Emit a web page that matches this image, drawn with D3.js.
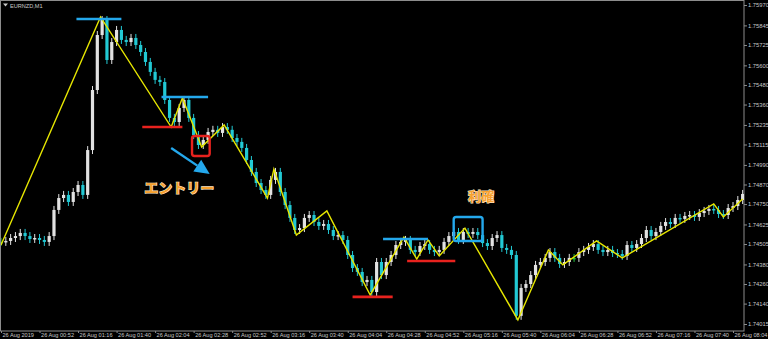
<!DOCTYPE html>
<html>
<head>
<meta charset="utf-8">
<script src="https://cdn.jsdelivr.net/npm/d3@7"></script>
<style>
body { margin: 0; background: #000; }
svg { display: block; }
</style>
</head>
<body>
<script>
// EURNZD M1, one close every 3 minutes starting 00:28
var startTime = '00:28';
var stepMinutes = 3;
var closes = [
    1.74518, 1.74524, 1.74542, 1.74554, 1.74573, 1.74554, 1.74536, 1.74542, 1.74530, 1.74518,
    1.74554, 1.74714, 1.74787, 1.74806, 1.74763, 1.74824, 1.74867, 1.74806, 1.75081, 1.75449,
    1.75786, 1.75878, 1.75633, 1.75743, 1.75817, 1.75756, 1.75743, 1.75768, 1.75725, 1.75682,
    1.75621, 1.75560, 1.75511, 1.75498, 1.75388, 1.75278, 1.75253, 1.75339, 1.75388, 1.75278,
    1.75173, 1.75112, 1.75143, 1.75192, 1.75205, 1.75186, 1.75222, 1.75205, 1.75155, 1.75131,
    1.75094, 1.75020, 1.74947, 1.74879, 1.74836, 1.74806, 1.74898, 1.74947, 1.74824, 1.74744,
    1.74665, 1.74591, 1.74603, 1.74665, 1.74683, 1.74640, 1.74616, 1.74628, 1.74591, 1.74554,
    1.74560, 1.74530, 1.74438, 1.74358, 1.74334, 1.74272, 1.74285, 1.74211, 1.74395, 1.74315,
    1.74395, 1.74438, 1.74499, 1.74518, 1.74530, 1.74469, 1.74456, 1.74493, 1.74505, 1.74469,
    1.74456, 1.74469, 1.74518, 1.74554, 1.74579, 1.74530, 1.74579, 1.74567, 1.74579, 1.74560,
    1.74511, 1.74493, 1.74542, 1.74560, 1.74481, 1.74469, 1.74438, 1.74065, 1.74236, 1.74260,
    1.74315, 1.74377, 1.74395, 1.74420, 1.74456, 1.74420, 1.74383, 1.74395, 1.74420, 1.74420,
    1.74456, 1.74469, 1.74487, 1.74505, 1.74469, 1.74456, 1.74469, 1.74450, 1.74444, 1.74432,
    1.74499, 1.74481, 1.74505, 1.74542, 1.74591, 1.74554, 1.74579, 1.74616, 1.74640, 1.74628,
    1.74665, 1.74659, 1.74677, 1.74683, 1.74671, 1.74695, 1.74708, 1.74720, 1.74714, 1.74689,
    1.74683, 1.74726, 1.74738, 1.74775, 1.74812
];

// yellow zigzag
var zigzagTimes = ['00:28', '01:30', '02:14', '02:21', '02:33', '02:47', '03:14', '03:18', '03:32', '03:51',
    '04:18', '04:39', '04:47', '04:54', '05:01', '05:17', '05:50', '06:09', '06:18', '06:39',
    '06:55', '07:52', '07:58', '08:10'];
var zigzagPrices = [1.74499, 1.75897, 1.75222, 1.75400, 1.75100, 1.75235, 1.74787, 1.74965, 1.74560, 1.74708,
    1.74193, 1.74548, 1.74413, 1.74530, 1.74432, 1.74603, 1.74040, 1.74469, 1.74377, 1.74524,
    1.74420, 1.74751, 1.74671, 1.74781];

// horizontal marker lines: [from, to, price]
var blueLines = [['01:15', '01:43', 1.75884], ['02:08', '02:37', 1.75406], ['04:26', '04:54', 1.74536]];
var redLines = [['01:56', '02:21', 1.75222], ['04:07', '04:32', 1.74181], ['04:41', '05:11', 1.74401]];

// boxes: [from, to, top price, bottom price]
var entryBox = ['02:27', '02:38', 1.75167, 1.75045];
var exitBox = ['05:10', '05:28', 1.74671, 1.74524];
var arrow = ['02:14', '02:38', 1.75094, 1.74934];
var notes = [{ text: 'エントリー', t: '02:19', p: 1.74818 }, { text: '利確', t: '05:27', p: 1.74769 }];

var priceTicks = [1.75970, 1.75845, 1.75725, 1.75600, 1.75480, 1.75360, 1.75235, 1.75115, 1.74990,
    1.74870, 1.74750, 1.74625, 1.74505, 1.74380, 1.74260, 1.74140, 1.74015];
var timeTicks = ['00:28', '00:52', '01:16', '01:40', '02:04', '02:28', '02:52', '03:16', '03:40', '04:04',
    '04:28', '04:52', '05:16', '05:40', '06:04', '06:28', '06:52', '07:16', '07:40', '08:04'];
var timeLabels = ['26 Aug 2019', '26 Aug 00:52', '26 Aug 01:16', '26 Aug 01:40', '26 Aug 02:04', '26 Aug 02:28',
    '26 Aug 02:52', '26 Aug 03:16', '26 Aug 03:40', '26 Aug 04:04', '26 Aug 04:28', '26 Aug 04:52',
    '26 Aug 05:16', '26 Aug 05:40', '26 Aug 06:04', '26 Aug 06:28', '26 Aug 06:52', '26 Aug 07:16',
    '26 Aug 07:40', '26 Aug 08:04'];

var parseTime = d3.timeParse('%H:%M');
var plotRight = 744, plotBottom = 331;
var axisFont = '"Liberation Sans", Arial, sans-serif';

var x = d3.scaleTime().domain([parseTime('00:28'), parseTime('08:04')]).range([1, 733]);
var y = d3.scaleLinear().domain([1.74015, 1.75970]).range([324, 5]);

var svg = d3.select('body').append('svg')
    .attr('width', 768)
    .attr('height', 339)
    .style('background', '#000');

svg.append('defs').append('clipPath').attr('id', 'plot')
    .append('rect').attr('x', 1).attr('y', 1).attr('width', plotRight - 1).attr('height', plotBottom - 1);

// frame
svg.append('rect')
    .attr('x', 0.5).attr('y', 0.5)
    .attr('width', plotRight - 0.5).attr('height', plotBottom - 0.5)
    .attr('fill', 'none').attr('stroke', '#8c8c8c').attr('stroke-width', 1);

// candles
var t0 = parseTime(startTime);
var candles = closes.map(function(c, i) {
    return { t: d3.timeMinute.offset(t0, i * stepMinutes), open: i ? closes[i - 1] : c, close: c };
});

var plot = svg.append('g').attr('clip-path', 'url(#plot)');

var cg = plot.selectAll('g.candle').data(candles).enter().append('g').attr('class', 'candle');

function candleColor(d) {
    if (Math.abs(y(d.close) - y(d.open)) < 0.6) return '#1fbf3a';
    return d.close >= d.open ? '#e2e2e2' : '#22c9d4';
}

cg.append('line')
    .attr('x1', function(d) { return x(d.t); })
    .attr('x2', function(d) { return x(d.t); })
    .attr('y1', function(d) { return Math.min(y(d.open), y(d.close)) - 4; })
    .attr('y2', function(d) { return Math.max(y(d.open), y(d.close)) + 4; })
    .attr('stroke', candleColor)
    .attr('stroke-width', 1);

cg.append('rect')
    .attr('x', function(d) { return x(d.t) - 1.6; })
    .attr('width', 3.2)
    .attr('y', function(d) { return Math.min(y(d.open), y(d.close)); })
    .attr('height', function(d) { return Math.max(1.5, Math.abs(y(d.open) - y(d.close))); })
    .attr('fill', candleColor);

// zigzag
var zz = zigzagTimes.map(function(t, i) { return [parseTime(t), zigzagPrices[i]]; });
plot.append('path')
    .datum(zz)
    .attr('d', d3.line().x(function(d) { return x(d[0]); }).y(function(d) { return y(d[1]); }))
    .attr('fill', 'none')
    .attr('stroke', '#e6e600')
    .attr('stroke-width', 1.4);

// axes
var yAxis = svg.append('g')
    .attr('transform', 'translate(' + plotRight + ',0)')
    .call(d3.axisRight(y).tickValues(priceTicks).tickFormat(d3.format('.5f')).tickSize(3).tickPadding(1));
yAxis.select('.domain').remove();
yAxis.selectAll('line').attr('stroke', '#8c8c8c');
yAxis.selectAll('text')
    .attr('fill', '#c8c8c8')
    .attr('font-family', axisFont)
    .attr('font-size', 5.8);

var xAxis = svg.append('g')
    .attr('transform', 'translate(0,' + plotBottom + ')')
    .call(d3.axisBottom(x)
        .tickValues(timeTicks.map(parseTime))
        .tickFormat(function(d, i) { return timeLabels[i]; })
        .tickSize(2).tickPadding(0));
xAxis.select('.domain').remove();
xAxis.selectAll('line').attr('stroke', '#8c8c8c');
xAxis.selectAll('text')
    .attr('fill', '#c8c8c8')
    .attr('font-family', axisFont)
    .attr('font-size', 5.6)
    .attr('text-anchor', 'start')
    .attr('dx', 1);

// title
svg.append('path').attr('d', 'M3,3.5 L8,3.5 L5.5,6.5 Z').attr('fill', '#c8c8c8');
svg.append('text')
    .attr('x', 10).attr('y', 7.5)
    .attr('fill', '#c8c8c8')
    .attr('font-family', axisFont)
    .attr('font-size', 5.6)
    .text('EURNZD,M1');

// annotations
function hline(g, data, color) {
    g.selectAll(null).data(data).enter().append('line')
        .attr('x1', function(d) { return x(parseTime(d[0])); })
        .attr('x2', function(d) { return x(parseTime(d[1])); })
        .attr('y1', function(d) { return y(d[2]); })
        .attr('y2', function(d) { return y(d[2]); })
        .attr('stroke', color)
        .attr('stroke-width', 2.6);
}
var ann = svg.append('g');
hline(ann, blueLines, '#24a8ec');
hline(ann, redLines, '#e8221e');

function box(b, color) {
    ann.append('rect')
        .attr('x', x(parseTime(b[0])))
        .attr('y', y(b[2]))
        .attr('width', x(parseTime(b[1])) - x(parseTime(b[0])))
        .attr('height', y(b[3]) - y(b[2]))
        .attr('rx', 2.5)
        .attr('fill', 'none')
        .attr('stroke', color)
        .attr('stroke-width', 2.4);
}
box(entryBox, '#e8221e');
box(exitBox, '#24a8ec');

// arrow
var ax1 = x(parseTime(arrow[0])), ay1 = y(arrow[2]);
var ax2 = x(parseTime(arrow[1])), ay2 = y(arrow[3]);
var ang = Math.atan2(ay2 - ay1, ax2 - ax1);
var headLen = 15, headW = 7;
var bx = ax2 - headLen * Math.cos(ang), by = ay2 - headLen * Math.sin(ang);
ann.append('line')
    .attr('x1', ax1).attr('y1', ay1).attr('x2', bx).attr('y2', by)
    .attr('stroke', '#24a8ec').attr('stroke-width', 2.4);
ann.append('path')
    .attr('d', 'M' + ax2 + ',' + ay2 +
        'L' + (bx + headW * Math.sin(ang)) + ',' + (by - headW * Math.cos(ang)) +
        'L' + (bx - headW * Math.sin(ang)) + ',' + (by + headW * Math.cos(ang)) + 'Z')
    .attr('fill', '#24a8ec');

ann.selectAll('text.note').data(notes).enter().append('text')
    .attr('class', 'note')
    .attr('x', function(d) { return x(parseTime(d.t)); })
    .attr('y', function(d) { return y(d.p); })
    .attr('text-anchor', 'middle')
    .attr('font-family', '"Noto Sans CJK JP", sans-serif')
    .attr('font-weight', 'bold')
    .attr('font-size', function(d) { return d.text.length > 2 ? 14 : 13; })
    .attr('fill', '#f7a12e')
    .attr('stroke', '#fde6c4')
    .attr('stroke-width', 1.2)
    .attr('paint-order', 'stroke')
    .text(function(d) { return d.text; });
</script>
</body>
</html>
